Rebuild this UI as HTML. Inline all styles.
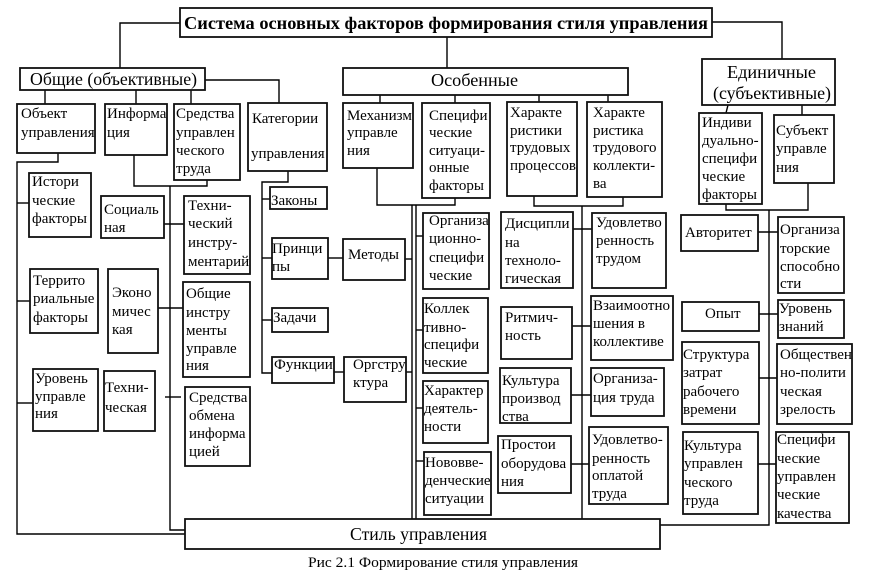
<!DOCTYPE html>
<html>
<head>
<meta charset="utf-8">
<style>
html,body{margin:0;padding:0;background:#fff;}
svg{display:block;}
.t{font-family:"Liberation Serif","DejaVu Serif",serif;font-size:15px;fill:#000;}
.b{font-family:"Liberation Serif","DejaVu Serif",serif;font-size:18px;fill:#000;}
rect{fill:#fff;stroke:#111;stroke-width:1.8;}
.l{fill:none;stroke:#000;stroke-width:1.4;}
</style>
</head>
<body>
<svg width="880" height="574" viewBox="0 0 880 574" xmlns="http://www.w3.org/2000/svg">

<!-- connectors -->
<polyline class="l" points="180,23 120,23 120,68"/>
<polyline class="l" points="447,37 447,68"/>
<polyline class="l" points="712,22 782,22 782,59"/>
<polyline class="l" points="205,80 279,80 279,103"/>
<line class="l" x1="45" y1="90" x2="45" y2="104"/>
<line class="l" x1="136" y1="90" x2="136" y2="104"/>
<line class="l" x1="191" y1="90" x2="191" y2="104"/>
<polyline class="l" points="58,153 58,162 17,162 17,534 185,534"/>
<line class="l" x1="17" y1="203" x2="29" y2="203"/>
<line class="l" x1="17" y1="301" x2="30" y2="301"/>
<line class="l" x1="17" y1="403" x2="33" y2="403"/>
<polyline class="l" points="134,155 134,186 207,186 207,180"/>
<polyline class="l" points="170,186 170,530 185,530"/>
<line class="l" x1="164" y1="224" x2="184" y2="224"/>
<line class="l" x1="158" y1="308" x2="183" y2="308"/>
<line class="l" x1="165" y1="397" x2="181" y2="397"/>
<polyline class="l" points="288,171 288,182 262,182 262,373 272,373"/>
<line class="l" x1="262" y1="199" x2="270" y2="199"/>
<line class="l" x1="262" y1="258" x2="272" y2="258"/>
<line class="l" x1="262" y1="320" x2="272" y2="320"/>
<line class="l" x1="328" y1="258" x2="343" y2="258"/>
<line class="l" x1="334" y1="372" x2="344" y2="372"/>
<line class="l" x1="380" y1="95" x2="380" y2="103"/>
<line class="l" x1="455" y1="95" x2="455" y2="103"/>
<line class="l" x1="539" y1="95" x2="539" y2="102"/>
<line class="l" x1="608" y1="95" x2="608" y2="102"/>
<polyline class="l" points="377,168 377,205 455,205 455,198"/>
<line class="l" x1="412" y1="205" x2="412" y2="519"/>
<line class="l" x1="416" y1="205" x2="416" y2="519"/>
<line class="l" x1="405" y1="259" x2="412" y2="259"/>
<line class="l" x1="406" y1="372" x2="412" y2="372"/>
<line class="l" x1="416" y1="236" x2="423" y2="236"/>
<line class="l" x1="416" y1="330" x2="423" y2="330"/>
<line class="l" x1="416" y1="408" x2="423" y2="408"/>
<line class="l" x1="416" y1="461" x2="424" y2="461"/>
<polyline class="l" points="534,196 534,206 623,206 623,197"/>
<line class="l" x1="582" y1="206" x2="582" y2="519"/>
<line class="l" x1="573" y1="229" x2="592" y2="229"/>
<line class="l" x1="572" y1="326" x2="591" y2="326"/>
<line class="l" x1="571" y1="395" x2="591" y2="395"/>
<line class="l" x1="571" y1="464" x2="589" y2="464"/>
<line class="l" x1="728" y1="105" x2="726" y2="113"/>
<line class="l" x1="802" y1="105" x2="802" y2="115"/>
<polyline class="l" points="726,204 726,210 808,210 808,183"/>
<polyline class="l" points="769,210 769,525 660,525"/>
<line class="l" x1="758" y1="232" x2="778" y2="232"/>
<line class="l" x1="759" y1="314" x2="778" y2="314"/>
<line class="l" x1="759" y1="378" x2="777" y2="378"/>
<line class="l" x1="758" y1="464" x2="776" y2="464"/>

<!-- top boxes -->
<rect x="180" y="8" width="532" height="29"/>
<text class="b" x="184" y="29" font-weight="bold" textLength="524" lengthAdjust="spacingAndGlyphs">Система основных факторов формирования стиля управления</text>

<rect x="20" y="68" width="185" height="22"/>
<text class="b" x="30" y="85" textLength="167" lengthAdjust="spacingAndGlyphs">Общие (объективные)</text>

<rect x="343" y="68" width="285" height="27"/>
<text class="b" x="431" y="86" textLength="87" lengthAdjust="spacingAndGlyphs">Особенные</text>

<rect x="702" y="59" width="133" height="46"/>
<text class="b" x="727" y="78" textLength="89" lengthAdjust="spacingAndGlyphs">Единичные</text>
<text class="b" x="713" y="99" textLength="118" lengthAdjust="spacingAndGlyphs">(субъективные)</text>

<rect x="185" y="519" width="475" height="30"/>
<text class="b" x="350" y="540" textLength="137" lengthAdjust="spacingAndGlyphs">Стиль управления</text>

<text class="t" x="308" y="567" font-size="13" textLength="270" lengthAdjust="spacingAndGlyphs">Рис 2.1  Формирование стиля управления</text>

<!-- Общие column -->
<rect x="17" y="104" width="78" height="49"/>
<text class="t" x="21" y="118">Объект</text>
<text class="t" x="21" y="137">управления</text>

<rect x="105" y="104" width="62" height="51"/>
<text class="t" x="107" y="118">Информа</text>
<text class="t" x="107" y="137">ция</text>

<rect x="174" y="104" width="66" height="76"/>
<text class="t" x="176" y="118">Средства</text>
<text class="t" x="176" y="137">управлен</text>
<text class="t" x="176" y="155">ческого</text>
<text class="t" x="176" y="173">труда</text>

<rect x="248" y="103" width="79" height="68"/>
<text class="t" x="252" y="123">Категории</text>
<text class="t" x="251" y="158">управления</text>

<rect x="29" y="173" width="62" height="64"/>
<text class="t" x="32" y="186">Истори</text>
<text class="t" x="32" y="205">ческие</text>
<text class="t" x="32" y="223">факторы</text>

<rect x="101" y="196" width="63" height="42"/>
<text class="t" x="104" y="214">Социаль</text>
<text class="t" x="104" y="232">ная</text>

<rect x="184" y="196" width="66" height="78"/>
<text class="t" x="188" y="210">Техни-</text>
<text class="t" x="188" y="228">ческий</text>
<text class="t" x="188" y="247">инстру-</text>
<text class="t" x="188" y="266">ментарий</text>

<rect x="30" y="269" width="68" height="64"/>
<text class="t" x="33" y="285">Террито</text>
<text class="t" x="33" y="303">риальные</text>
<text class="t" x="33" y="322">факторы</text>

<rect x="108" y="269" width="50" height="84"/>
<text class="t" x="112" y="297">Эконо</text>
<text class="t" x="112" y="316">мичес</text>
<text class="t" x="112" y="334">кая</text>

<rect x="183" y="282" width="67" height="95"/>
<text class="t" x="186" y="298">Общие</text>
<text class="t" x="186" y="317">инстру</text>
<text class="t" x="186" y="335">менты</text>
<text class="t" x="186" y="353">управле</text>
<text class="t" x="186" y="370">ния</text>

<rect x="33" y="369" width="65" height="62"/>
<text class="t" x="35" y="383">Уровень</text>
<text class="t" x="35" y="401">управле</text>
<text class="t" x="35" y="418">ния</text>

<rect x="104" y="371" width="51" height="60"/>
<text class="t" x="105" y="392">Техни-</text>
<text class="t" x="105" y="412">ческая</text>

<rect x="185" y="387" width="65" height="79"/>
<text class="t" x="189" y="402">Средства</text>
<text class="t" x="189" y="420">обмена</text>
<text class="t" x="189" y="438">информа</text>
<text class="t" x="189" y="456">цией</text>

<!-- Категории children -->
<rect x="270" y="187" width="57" height="22"/>
<text class="t" x="271" y="205">Законы</text>

<rect x="272" y="238" width="56" height="41"/>
<text class="t" x="272" y="253">Принци</text>
<text class="t" x="272" y="271">пы</text>

<rect x="343" y="239" width="62" height="41"/>
<text class="t" x="348" y="259">Методы</text>

<rect x="272" y="308" width="56" height="24"/>
<text class="t" x="273" y="322">Задачи</text>

<rect x="272" y="357" width="62" height="26"/>
<text class="t" x="274" y="369">Функции</text>

<rect x="344" y="357" width="62" height="45"/>
<text class="t" x="353" y="369">Оргстру</text>
<text class="t" x="353" y="387">ктура</text>

<!-- Особенные column -->
<rect x="343" y="103" width="70" height="65"/>
<text class="t" x="347" y="120">Механизм</text>
<text class="t" x="347" y="137">управле</text>
<text class="t" x="347" y="155">ния</text>

<rect x="422" y="103" width="68" height="95"/>
<text class="t" x="429" y="120">Специфи</text>
<text class="t" x="429" y="137">ческие</text>
<text class="t" x="429" y="155">ситуаци-</text>
<text class="t" x="429" y="172">онные</text>
<text class="t" x="429" y="190">факторы</text>

<rect x="507" y="102" width="70" height="94"/>
<text class="t" x="510" y="117">Характе</text>
<text class="t" x="510" y="135">ристики</text>
<text class="t" x="510" y="152">трудовых</text>
<text class="t" x="510" y="170">процессов</text>

<rect x="587" y="102" width="75" height="95"/>
<text class="t" x="593" y="117">Характе</text>
<text class="t" x="593" y="135">ристика</text>
<text class="t" x="593" y="152">трудового</text>
<text class="t" x="593" y="170">коллекти-</text>
<text class="t" x="593" y="188">ва</text>

<rect x="423" y="213" width="66" height="76"/>
<text class="t" x="429" y="225">Организа</text>
<text class="t" x="429" y="243">ционно-</text>
<text class="t" x="429" y="262">специфи</text>
<text class="t" x="429" y="280">ческие</text>

<rect x="423" y="298" width="65" height="75"/>
<text class="t" x="424" y="313">Коллек</text>
<text class="t" x="424" y="332">тивно-</text>
<text class="t" x="424" y="349">специфи</text>
<text class="t" x="424" y="367">ческие</text>

<rect x="423" y="381" width="65" height="62"/>
<text class="t" x="424" y="395">Характер</text>
<text class="t" x="424" y="413">деятель-</text>
<text class="t" x="424" y="431">ности</text>

<rect x="424" y="452" width="67" height="63"/>
<text class="t" x="425" y="467">Нововве-</text>
<text class="t" x="425" y="485">денческие</text>
<text class="t" x="425" y="503">ситуации</text>

<rect x="501" y="212" width="72" height="76"/>
<text class="t" x="505" y="228">Дисципли</text>
<text class="t" x="505" y="247">на</text>
<text class="t" x="505" y="265">техноло-</text>
<text class="t" x="505" y="283">гическая</text>

<rect x="592" y="213" width="74" height="75"/>
<text class="t" x="596" y="227">Удовлетво</text>
<text class="t" x="596" y="245">ренность</text>
<text class="t" x="596" y="263">трудом</text>

<rect x="501" y="307" width="71" height="52"/>
<text class="t" x="505" y="322">Ритмич-</text>
<text class="t" x="505" y="340">ность</text>

<rect x="591" y="296" width="82" height="64"/>
<text class="t" x="593" y="310">Взаимоотно</text>
<text class="t" x="593" y="328">шения в</text>
<text class="t" x="593" y="346">коллективе</text>

<rect x="500" y="368" width="71" height="55"/>
<text class="t" x="502" y="385">Культура</text>
<text class="t" x="502" y="403">производ</text>
<text class="t" x="502" y="421">ства</text>

<rect x="591" y="368" width="73" height="48"/>
<text class="t" x="593" y="383">Организа-</text>
<text class="t" x="593" y="402">ция труда</text>

<rect x="498" y="436" width="73" height="57"/>
<text class="t" x="501" y="449">Простои</text>
<text class="t" x="501" y="468">оборудова</text>
<text class="t" x="501" y="486">ния</text>

<rect x="589" y="427" width="79" height="77"/>
<text class="t" x="592" y="444">Удовлетво-</text>
<text class="t" x="592" y="463">ренность</text>
<text class="t" x="592" y="480">оплатой</text>
<text class="t" x="592" y="498">труда</text>

<!-- Единичные column -->
<rect x="699" y="113" width="63" height="91"/>
<text class="t" x="702" y="127">Индиви</text>
<text class="t" x="702" y="145">дуально-</text>
<text class="t" x="702" y="163">специфи</text>
<text class="t" x="702" y="181">ческие</text>
<text class="t" x="702" y="199">факторы</text>

<rect x="774" y="115" width="60" height="68"/>
<text class="t" x="776" y="135">Субъект</text>
<text class="t" x="776" y="153">управле</text>
<text class="t" x="776" y="172">ния</text>

<rect x="681" y="215" width="77" height="36"/>
<text class="t" x="685" y="237">Авторитет</text>

<rect x="778" y="217" width="66" height="76"/>
<text class="t" x="780" y="234">Организа</text>
<text class="t" x="780" y="253">торские</text>
<text class="t" x="780" y="271">способно</text>
<text class="t" x="780" y="288">сти</text>

<rect x="682" y="302" width="77" height="29"/>
<text class="t" x="705" y="318">Опыт</text>

<rect x="778" y="300" width="66" height="38"/>
<text class="t" x="779" y="313">Уровень</text>
<text class="t" x="779" y="331">знаний</text>

<rect x="682" y="342" width="77" height="82"/>
<text class="t" x="683" y="359">Структура</text>
<text class="t" x="683" y="377">затрат</text>
<text class="t" x="683" y="396">рабочего</text>
<text class="t" x="683" y="414">времени</text>

<rect x="777" y="344" width="75" height="80"/>
<text class="t" x="780" y="359">Обществен</text>
<text class="t" x="780" y="377">но-полити</text>
<text class="t" x="780" y="396">ческая</text>
<text class="t" x="780" y="414">зрелость</text>

<rect x="683" y="432" width="75" height="82"/>
<text class="t" x="684" y="450">Культура</text>
<text class="t" x="684" y="468">управлен</text>
<text class="t" x="684" y="487">ческого</text>
<text class="t" x="684" y="505">труда</text>

<rect x="776" y="432" width="73" height="91"/>
<text class="t" x="777" y="444">Специфи</text>
<text class="t" x="777" y="463">ческие</text>
<text class="t" x="777" y="481">управлен</text>
<text class="t" x="777" y="499">ческие</text>
<text class="t" x="777" y="518">качества</text>

</svg>
</body>
</html>
